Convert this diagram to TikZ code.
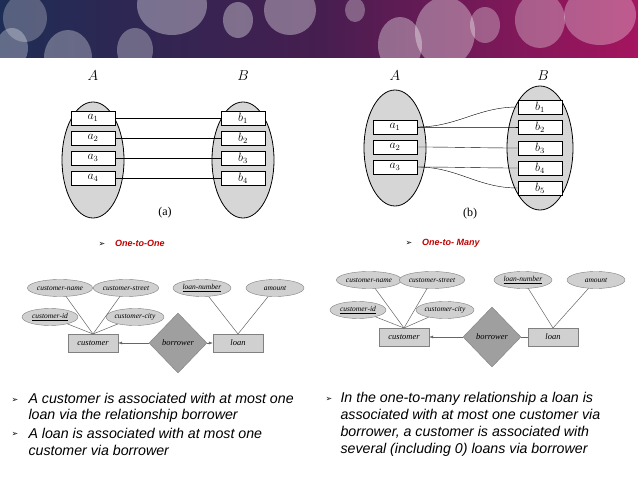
\documentclass[tikz,border=0pt]{standalone}
\usepackage{fontspec}
\setmainfont{Liberation Sans}
\newfontfamily\dejavu{DejaVu Sans}
\newfontfamily\erfont{Liberation Serif}
\usetikzlibrary{shapes.geometric,arrows.meta}
\definecolor{setgray}{HTML}{D6D6D6}
\definecolor{ergray}{HTML}{D0D0D0}
\definecolor{bulred}{HTML}{C00000}
\tikzset{
 setell/.style={ellipse,draw,fill=setgray,line width=0.8pt},
 elem/.style={draw,fill=white,minimum width=44pt,minimum height=14pt,inner sep=0pt,line width=0.8pt,font=\large},
 setlbl/.style={font=\Large},
 attr/.style={ellipse,draw=gray,fill=ergray,minimum width=58pt,minimum height=17pt,inner sep=0pt,font=\erfont\itshape\fontsize{7.5}{9}\selectfont},
 ent/.style={draw=gray,fill=ergray,minimum width=50pt,minimum height=18pt,inner sep=0pt,font=\erfont\itshape\fontsize{8.5}{10}\selectfont},
 rel/.style={diamond,draw=gray,fill=gray!75,minimum width=58pt,minimum height=60pt,inner sep=0pt,aspect=0.95,font=\erfont\itshape\fontsize{8.5}{10}\selectfont},
 erl/.style={draw=gray!80!black,line width=0.5pt},
 bodyl/.style={anchor=west,font=\fontsize{14.2}{16.5}\selectfont\itshape,align=left},
 bodyr/.style={anchor=west,font=\fontsize{14.2}{17}\selectfont\itshape,align=left},
}
\newcommand{\bul}{{\dejavu\fontsize{8}{8}\selectfont ➢}}
\begin{document}
\begin{tikzpicture}[x=1pt,y=-1pt]
\useasboundingbox (0,0) rectangle (638,478);
\fill[white] (0,0) rectangle (638,478);
% banner
\shade[left color={rgb,255:red,30;green,45;blue,85},right color={rgb,255:red,165;green,20;blue,95},middle color={rgb,255:red,70;green,30;blue,80}] (0,0) rectangle (638,58);
\begin{scope}
\clip (0,0) rectangle (638,58);
\fill[white,opacity=0.25] (25,18) ellipse (22 and 24);
\fill[white,opacity=0.3] (12,48) ellipse (16 and 20);
\fill[white,opacity=0.3] (68,58) ellipse (24 and 28);
\fill[white,opacity=0.3] (135,50) ellipse (18 and 22);
\fill[white,opacity=0.35] (172,5) ellipse (35 and 30);
\fill[white,opacity=0.35] (238,20) ellipse (15 and 18);
\fill[white,opacity=0.35] (290,10) ellipse (26 and 25);
\fill[white,opacity=0.3] (355,10) ellipse (10 and 12);
\fill[white,opacity=0.35] (400,45) ellipse (22 and 28);
\fill[white,opacity=0.35] (445,32) ellipse (30 and 35);
\fill[white,opacity=0.3] (485,25) ellipse (15 and 18);
\fill[white,opacity=0.3] (540,20) ellipse (25 and 28);
\fill[white,opacity=0.3] (600,15) ellipse (36 and 30);
\end{scope}
% (a)
\node[setlbl] (lA) at (93,76) {$A$};
\node[setlbl] (lB) at (243,76) {$B$};
\node[setell,minimum width=62pt,minimum height=116pt] (EA) at (93,160) {};
\node[setell,minimum width=62pt,minimum height=116pt] (EB) at (243,160) {};
\foreach \i/\y in {1/118,2/138,3/158,4/178}{
 \node[elem] (a\i) at (93,\y) {$a_{\i}$};
 \node[elem] (b\i) at (243,\y) {$b_{\i}$};
 \draw (a\i) -- (b\i);
}
\node[font=\erfont\large] (capa) at (165,213) {(a)};
% (b)
\node[setlbl] (rA) at (395,76) {$A$};
\node[setlbl] (rB) at (543,76) {$B$};
\node[setell,minimum width=62pt,minimum height=116pt] (FA) at (395,148) {};
\node[setell,minimum width=66pt,minimum height=124pt] (FB) at (540,148) {};
\foreach \i/\y in {1/127,2/147,3/167}{\node[elem] (c\i) at (395,\y) {$a_{\i}$};}
\foreach \i/\y in {1/107,2/127,3/148,4/168,5/188}{\node[elem] (d\i) at (540,\y) {$b_{\i}$};}
\draw (c1.east) to[out=0,in=180] (d1.west);
\draw (c1.east) to[out=0,in=180] (d2.west);
\draw (c2.east) to[out=0,in=180] (d3.west);
\draw (c3.east) to[out=0,in=180] (d4.west);
\draw (c3.east) to[out=0,in=180] (d5.west);
\node[font=\erfont\large] (capb) at (470,214) {(b)};
% headings
\node[anchor=west,font=\bfseries\itshape\small,text=bulred] (h1) at (95,243) {\textcolor{black}{\bul}\hspace{10pt}One-to-One};
\node[anchor=west,font=\bfseries\itshape\small,text=bulred] (h2) at (402,243) {\textcolor{black}{\bul}\hspace{10pt}One-to- Many};
% ER left
\node[attr] (cn) at (60,288) {customer-name};
\node[attr] (cs) at (126,288) {customer-street};
\node[attr] (ln) at (202,288) {\underline{loan-number}};
\node[attr] (am) at (275,288) {amount};
\node[attr,minimum width=56pt] (ci) at (50,317) {\underline{customer-id}};
\node[attr] (cc) at (135,317) {customer-city};
\node[ent] (cu) at (93,343) {customer};
\node[rel] (bo) at (178,343) {borrower};
\node[ent] (lo) at (238,343) {loan};
\coordinate (cut) at (93,334);
\coordinate (lot) at (238,334);
\foreach \n in {cn,cs,ci,cc}{\draw[erl] (\n) -- (cut);}
\foreach \n in {ln,am}{\draw[erl] (\n) -- (lot);}
\draw[erl,-{Latex[length=4pt,width=3pt]}] (bo.west) -- (cu.east);
\draw[erl,-{Latex[length=4pt,width=3pt]}] (bo.east) -- (lo.west);
% ER right
\node[attr] (cn2) at (369,280) {customer-name};
\node[attr] (cs2) at (432,280) {customer-street};
\node[attr] (ln2) at (523,280) {\underline{loan-number}};
\node[attr] (am2) at (596,280) {amount};
\node[attr,minimum width=56pt] (ci2) at (358,310) {\underline{customer-id}};
\node[attr] (cc2) at (445,310) {customer-city};
\node[ent] (cu2) at (404,337) {customer};
\node[rel] (bo2) at (492,337) {borrower};
\node[ent] (lo2) at (553,337) {loan};
\coordinate (cut2) at (404,328);
\coordinate (lot2) at (553,328);
\foreach \n in {cn2,cs2,ci2,cc2}{\draw[erl] (\n) -- (cut2);}
\foreach \n in {ln2,am2}{\draw[erl] (\n) -- (lot2);}
\draw[erl,-{Latex[length=4pt,width=3pt]}] (bo2.west) -- (cu2.east);
\draw[erl] (bo2.east) -- (lo2.west);
% bottom text
\node[anchor=west] (p1) at (8,400) {\bul};
\node[bodyl] (t1) at (25,408) {A customer is associated with at most one\\loan via the relationship borrower};
\node[anchor=west] (p2) at (8,434) {\bul};
\node[bodyl] (t2) at (25,442) {A loan is associated with at most one\\customer via borrower};
\node[anchor=west] (p3) at (322,399) {\bul};
\node[bodyr] (t3) at (337,424.5) {In the one-to-many relationship a loan is\\associated with at most one customer via\\borrower, a customer is associated with\\several (including 0) loans via borrower};
\end{tikzpicture}
\end{document}
